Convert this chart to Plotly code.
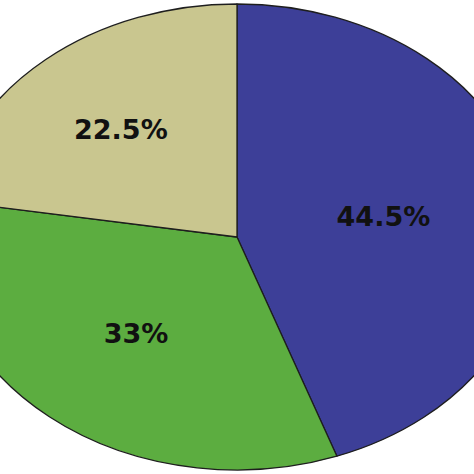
import plotly.graph_objects as go

# slice data, clockwise from 12 o'clock
labels = ["A", "B", "C"]
values = [44.5, 33, 22.5]
colors = ["#3d3f98", "#5cad40", "#c9c68f"]

W = H = 474
# the original pie is drawn as an ellipse (wider than tall)
STRETCH_X = 295 / 233

fig = go.Figure(go.Pie(
    labels=labels,
    values=values,
    sort=False,
    direction="clockwise",
    rotation=0,
    marker=dict(colors=colors, line=dict(color="#1e1e1e", width=1.3)),
    textinfo="percent",
    textposition="inside",
    insidetextorientation="horizontal",
    textfont=dict(family="DejaVu Sans", size=27, color="#111111", weight="bold"),
    hoverinfo="skip",
    domain=dict(x=[0, 1], y=[4 / H, 470 / H]),
))

fig.update_layout(
    width=W, height=H,
    margin=dict(l=0, r=0, t=0, b=0),
    paper_bgcolor="white",
    showlegend=False,
)

# stretch the wedges horizontally about the pie centre, and move the labels out with them
js = """
document.body.style.margin = '0';
document.body.style.overflow = 'hidden';
var gd = document.getElementById('{plot_id}');
var s = %f, cx = %f;
gd.querySelectorAll('g.slice path.surface').forEach(function(p){
  p.setAttribute('transform', 'translate(' + cx + ',0) scale(' + s + ',1) translate(' + (-cx) + ',0)');
  p.style.vectorEffect = 'non-scaling-stroke';
});
var left = gd.getBoundingClientRect().left;
gd.querySelectorAll('g.slicetext').forEach(function(g){
  var r = g.getBoundingClientRect();
  var mid = r.left + r.width / 2 - left;
  g.setAttribute('transform', 'translate(' + ((s - 1) * (mid - cx)) + ',0)');
});
""" % (STRETCH_X, W / 2)

fig.write_html("out.html", post_script=js, config={"displayModeBar": False})
